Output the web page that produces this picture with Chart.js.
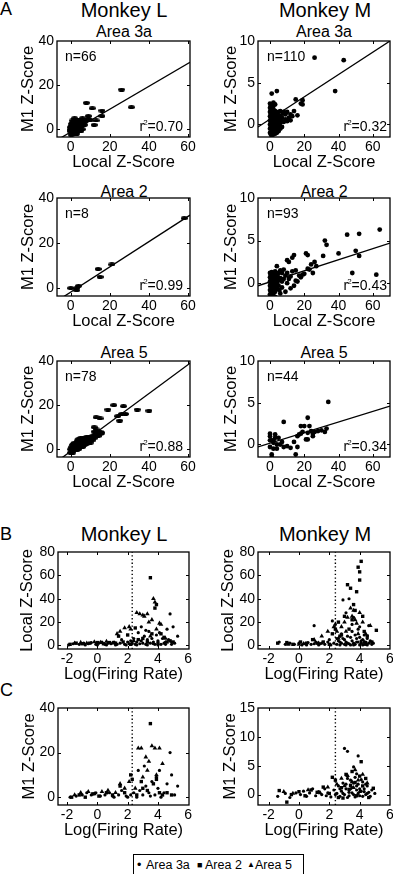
<!DOCTYPE html>
<html><head><meta charset="utf-8">
<script src="https://cdn.jsdelivr.net/npm/chart.js@4.4.1/dist/chart.umd.min.js"></script>
<style>
html,body{margin:0;padding:0;background:#fff;overflow:hidden;}
#page{position:relative;width:393px;height:874px;overflow:hidden;font-family:"Liberation Sans",Arial,sans-serif;color:#000;background:#fff;}
.t{position:absolute;white-space:nowrap;line-height:1;}
.c{transform:translateX(-50%);}
canvas{position:absolute;}
#leg{position:absolute;left:133px;top:854px;width:171px;height:22px;border:1px solid #000;box-sizing:border-box;font-size:12.5px;}
#leg span{position:absolute;top:4px;line-height:1;white-space:nowrap;}
</style></head><body><div id="page">
<div class="t" style="left:0;top:0;font-size:18px;">A</div>
<div class="t c" style="left:124px;top:0;font-size:20px;">Monkey L</div>
<div class="t c" style="left:325px;top:0;font-size:20px;">Monkey M</div>
<div class="t c" style="left:124px;top:24px;font-size:16px;">Area 3a</div>
<div class="t c" style="left:324px;top:24px;font-size:16px;">Area 3a</div>
<div class="t c" style="left:124px;top:183.5px;font-size:16px;">Area 2</div>
<div class="t c" style="left:324px;top:183.5px;font-size:16px;">Area 2</div>
<div class="t c" style="left:124px;top:345px;font-size:16px;">Area 5</div>
<div class="t c" style="left:324px;top:345px;font-size:16px;">Area 5</div>
<div class="t" style="left:0;top:525px;font-size:18px;">B</div>
<div class="t c" style="left:124px;top:524px;font-size:20px;">Monkey L</div>
<div class="t c" style="left:325px;top:524px;font-size:20px;">Monkey M</div>
<div class="t" style="left:0;top:681px;font-size:18px;">C</div>
<div id="leg">
<span style="left:3px;">•</span><span style="left:12px;">Area 3a</span>
<span style="left:63px;font-size:9px;top:6px;">■</span><span style="left:71px;">Area 2</span>
<span style="left:113px;font-size:8px;top:6px;">▲</span><span style="left:121px;">Area 5</span>
</div>
</div>
<script>
// ---------- DATA ----------
// Tick labels
const zTicks40 = [0, 20, 40];
const zTicks10 = [0, 5, 10];
const zTicks15 = [0, 5, 10, 15];
const zTicks80 = [0, 20, 40, 60, 80];
const localTicks = [0, 20, 40, 60];
const rateTicks = [-2, 0, 2, 4, 6];

// Panel A, Monkey L: [local z, M1 z]
const aL3a = [[0,0],[0.5,-1],[1,-2],[1,0.5],[1.5,1],[2,2],[2,-0.5],[2.5,3],[3,1],[3,-1],[0.5,1.5],[1,3],[2,4],[3,4],[4,3],[4,4],[5,4],[6,4],[4,2],[5,2],[3,2.5],[1.5,-1.5],[0,-1],[0.5,0.5],[1,1.5],[2,0],[3.5,0],[4,-1],[5,-1],[6,2],[7,3.5],[8,4],[9,6],[10,4],[8,12],[11,9.5],[16,8.5],[16,6],[12,2],[26,18],[31,10],[7,2],[5,3],[2.5,-2],[1,-1],[0,1],[0.5,2.5],[1.5,3.5],[3,3],[2,1],[6,0],[4,0.5],[1,4],[2,-1.5],[0,-0.5],[1,2],[3,0.5],[5,1],[4,1.5],[13,4],[6,5],[2,5],[3,-2],[1,0],[0.3,-2.5],[9,4.5]];
const aL2 = [[0,0],[3,-1],[3,0],[4,1],[14,8.5],[15,5],[21,10.5],[58,31]];
const aL5 = [[0,0],[0.5,-1],[1,0.5],[1,-1.5],[1.5,1],[2,1.5],[2,-0.5],[2.5,2],[3,1],[3,3],[3.5,2.5],[4,2],[4,3.5],[5,3],[5,5],[6,5],[7,5],[6,3],[7,3],[8,2.5],[8,5],[9,5.5],[10,5],[11,5],[12,6],[12,8],[12,10],[13,7],[13,14.5],[14,6],[14,8],[15,14],[15,7],[16,7.5],[19,18],[22,20],[24,15],[25,13],[26,16],[27,19.5],[28,16],[34,18],[40,17.5],[1,0],[2,0.5],[3,-0.5],[0.5,1],[1.5,-0.5],[4,1],[5,1.5],[6,1],[2,2.5],[3,1.8],[4,4.5],[0,-1.5],[1,2],[9,4],[10,3],[11,6],[12,5],[13,9],[0.5,0],[2.5,0],[3.5,4],[5,4],[7,4],[8,5.5],[10,5.5],[1,-0.5],[2,3],[6,4],[4,0],[1.5,2.5],[11,4],[9,3],[15,8],[14,7],[7,2]];

// Panel A, Monkey M
const aM3a = [[0,-1],[0,-0.5],[0,0],[0,0.5],[0,1],[0,1.5],[0,2],[0,2.5],[0.5,-1.2],[0.5,-0.3],[0.5,0.3],[0.5,0.8],[0.5,1.3],[0.5,1.8],[0.5,2.3],[1,-1.3],[1,-0.8],[1,-0.2],[1,0.2],[1,0.7],[1,1.2],[1,1.7],[1,3.7],[1.5,-1],[1.5,-0.5],[1.5,0],[1.5,0.5],[1.5,1],[1.5,1.5],[1.5,2],[2,-1.2],[2,-0.6],[2,-0.1],[2,0.4],[2,0.9],[2,1.4],[2,2.2],[2.5,-0.9],[2.5,-0.3],[2.5,0.2],[2.5,0.7],[2.5,1.2],[2.5,1.7],[3,-1.1],[3,-0.5],[3,0],[3,0.6],[3,1],[3,1.6],[3.5,-0.7],[3.5,-0.2],[3.5,0.4],[3.5,0.9],[3.5,1.4],[4,-1],[4,-0.4],[4,0.1],[4,0.6],[4,1.1],[4,4],[4.5,-0.6],[4.5,0.3],[4.5,0.8],[5,-0.8],[5,-0.2],[5,0.4],[5,1],[5,1.5],[5.5,0],[5.5,0.6],[6,-0.5],[6,0.2],[6,1],[6.5,0.4],[7,-0.3],[7,0.8],[7.5,1.3],[8,0.3],[8,1.5],[9,0.6],[9,1.2],[10,0.4],[10,1.5],[11,0.8],[12,1.2],[12,0.5],[13,1],[14,1.6],[15,3],[16,1.1],[18,2.5],[19,2.9],[19,2.4],[26,8],[38,4],[43,7.7],[3,2.4],[2,2.6],[1,2.4],[6,1.6]];
const aM2 = [[0,-1.3],[0,-0.8],[0,-0.3],[0,0.2],[0,0.7],[0,1.2],[0.5,-1],[0.5,-0.5],[0.5,0],[0.5,0.5],[0.5,1],[1,-1.5],[1,-0.7],[1,-0.2],[1,0.3],[1,0.8],[1,1.3],[1.5,-0.4],[1.5,0.4],[1.5,0.9],[2,-1.2],[2,-0.6],[2,0],[2,0.6],[2,1.1],[2.5,-0.2],[2.5,0.7],[3,-1],[3,-0.3],[3,0.3],[3,0.9],[3,1.4],[3.5,0.1],[3.5,1.2],[4,-0.7],[4,0],[4,0.5],[4,2],[4.5,0.8],[5,-0.3],[5,0.3],[5,1.2],[5.5,-0.8],[6,0.6],[6,1.5],[7,-0.5],[7,0.2],[7,1.2],[8,0.5],[8,1.6],[9,-1],[9,0.9],[10,2.7],[10,1.2],[10,0],[11,0.5],[11,2.5],[12,-0.6],[12,0.8],[13,1.4],[13,3],[14,3.3],[15,0.3],[15,1.5],[16,0.2],[17,0.9],[18,0.7],[20,1.1],[21,3.5],[22,3.3],[22,1.7],[23,1.6],[25,1.2],[26,2.5],[27,2],[31,3.2],[32,5],[33,4.5],[40,3.5],[45,5.7],[48,1.2],[50,3.8],[52,5.8],[52,3.2],[62,1],[64,6.3],[14,-0.3],[6,-1.2],[3,-1.6],[19,1],[24,2.2]];
const aM5 = [[0,1.3],[0,1],[0,0.5],[0,-0.3],[1,-1.2],[1,-1.5],[2,-0.5],[2,0.5],[2,0.2],[3,0.8],[3,1.2],[4,-0.5],[4,0],[5,0.8],[6,0],[8,2.7],[8,-0.3],[10,-0.2],[14,0.3],[15,-1.2],[16,1],[16,-0.3],[17,1.2],[18,1.3],[18,2.2],[19,1.5],[20,2.2],[21,0.6],[22,1.4],[22,3.2],[22,0.6],[23,2.2],[24,1.6],[25,1],[25,1.3],[26,1.5],[28,1.6],[30,1.7],[32,1.5],[33,1.9],[34,5.1],[12,-0.4],[7,0.3],[1,0.5]];

// Regression-line end points [x, y]
const fitL3a = [[-7,-4.9],[61,30.4]];
const fitL2 = [[-7,-5.7],[61,32.4]];
const fitL5 = [[-7,-5.5],[61,39]];
const fitM3a = [[-7,-0.3],[70,10]];
const fitM2 = [[-7,-0.3],[70,4.7]];
const fitM5 = [[-7,-0.3],[70,4.6]];

const nLabels = ['n=66','n=8','n=78','n=110','n=93','n=44'];
const r2Labels = ['0.70','0.99','0.88','0.32','0.43','0.34'];

// Panel B (local Z-score vs log firing rate), Monkey L
const bL3a = [[-1.9,0.5],[-1.6,1.5],[-1.2,1],[-0.9,2],[-0.6,1.5],[-0.4,2.5],[-0.1,1],[0.1,2],[0.3,3],[0.5,1],[0.7,2],[0.9,1.5],[1.1,3],[1.3,1],[1.5,2],[1.6,5],[1.8,1],[2,3],[2.1,1.5],[2.3,2],[2.4,6],[2.5,1],[2.6,3],[2.7,11],[2.8,1.5],[2.9,4],[3,2],[3.1,8],[3.2,1],[3.3,5],[3.4,12],[3.5,2],[3.6,6],[3.7,3],[3.8,1],[3.9,9],[4,4],[4.1,11],[4.2,1],[4.3,6],[4.4,2],[4.5,3],[4.7,5],[4.8,27],[4.9,1],[5,16],[5.1,2],[5.3,8],[4.6,14],[3.2,13],[2.9,16],[-0.8,0.5],[0,0.5],[0.6,0.5],[1.2,0.5],[1.9,0.5],[2.6,0.5],[3.3,0.5],[4,0.5],[4.5,1],[2.2,4],[3.7,1.5],[4.9,3]];
const bL2 = [[-1.8,1],[-1.4,2],[-1,1.5],[-0.5,2],[0,2.5],[0.4,1.5],[0.8,2.5],[1.2,2],[1.4,8],[1.7,3],[2,9],[2.2,1],[2.5,15],[2.7,5],[3,6],[3.3,3],[3.5,58],[3.6,10],[3.8,32],[3.9,35],[4,2],[4.2,10],[4.4,7],[4.6,3],[4.8,4],[5,3]];
const bL5 = [[-1.5,2],[-1.1,2.5],[-0.7,2],[-0.2,3],[0.2,2.5],[0.6,3.5],[1,2],[1.3,10],[1.5,12],[1.8,15],[2.1,16],[2.2,14],[2.6,28],[2.8,27],[3,26],[3.1,25],[3.3,27],[3.4,20],[3.6,22],[3.7,40],[3.8,37],[3.9,14],[4.1,19],[4.2,18],[4.5,6],[2.4,4],[3.5,8]];
// Panel B, Monkey M
const bM3a = [[-1.3,3],[-0.9,1],[-0.6,2],[-0.3,1],[0,2],[0.2,0.5],[0.4,1.5],[0.6,2.5],[0.8,1],[1,1.5],[1.1,3],[1.3,0.5],[1.5,2],[1.7,1],[1.9,3],[2.1,0.5],[2.3,2],[2.5,1],[2.6,4],[2.7,0.5],[2.8,2],[2.9,6],[3,1],[3.1,3],[3.2,8],[3.3,1.5],[3.4,0.5],[3.5,4],[3.6,2],[3.7,1],[3.8,6],[3.9,3],[4,0.5],[4.1,2],[4.2,5],[4.3,1],[4.4,3],[4.5,0.5],[4.6,2],[4.7,4],[4.8,1],[4.9,2],[2.9,39],[3.3,40],[3.1,28],[3.6,24],[2.2,21],[2.4,18],[1,17],[4.6,17],[2.7,3],[2.8,10],[3,5],[3.2,2],[3.4,7],[3.5,12],[3.6,0.5],[3.7,9],[3.8,3],[3.9,14],[4,7],[4.1,4],[4.2,0.5],[4.3,9],[4.4,1],[4.5,6],[3.1,0.5],[2.5,6],[2,5],[1.4,1.5],[0.5,0.5],[4,16],[3.5,18]];
const bM2 = [[-1.4,2],[-0.8,2.5],[-0.4,1],[0.1,3],[0.5,2],[0.9,5],[1.2,2],[1.6,3],[2,1],[2.2,10],[2.4,14],[2.6,20],[2.8,9],[3,25],[3.2,52],[3.4,49],[3.5,22],[3.7,30],[3.8,46],[3.9,67],[4,63],[4,56],[4.1,72],[4.2,25],[4.3,12],[4.5,8],[4.8,3],[5.1,13],[3.6,35],[3.3,14],[2.7,8],[4.4,2]];
const bM5 = [[-0.7,1],[0.3,1.5],[1,5],[1.5,8],[1.9,12],[2.3,16],[2.5,12],[2.8,16],[3,20],[3.2,24],[3.4,32],[3.5,25],[3.6,30],[3.7,22],[3.8,19],[4,28],[4.2,20],[4.4,10],[4.7,17],[3.1,12],[3.9,10],[2.6,6],[4.3,3],[1.3,2],[0,1]];

// Panel C (M1 Z-score vs log firing rate), Monkey L
const cL3a = [[-1.8,0],[-1.4,0.5],[-1,1],[-0.7,2],[-0.4,1],[-0.1,2],[0.2,0.5],[0.5,1],[0.8,2],[1.1,0],[1.4,1],[1.6,3],[1.9,0.5],[2.2,1],[2.4,2],[2.6,0],[2.8,3],[3,1],[3.2,5],[3.4,2],[3.6,7],[3.8,1],[4,4],[4.2,0],[4.4,2],[4.6,6],[4.8,20],[4.9,10],[5.1,1],[5.3,5],[3.9,9],[3.1,14],[2.7,12],[4.1,12],[3.5,0.5],[2,0],[1,0.5]];
const cL2 = [[-1.7,0],[-1.2,1],[-0.8,0],[-0.3,1.5],[0.1,0.5],[0.6,2],[1,1],[1.5,5],[1.8,2],[2.2,10],[2.3,8],[2.6,1],[3,4],[3.3,3],[3.5,33],[3.7,6],[3.9,8],[4.1,2],[4.3,1],[4.6,2],[4.9,1],[2.9,7]];
const cL5 = [[-1.5,1],[-1.1,2],[-0.6,2.5],[-0.2,1.5],[0.3,2.5],[0.7,3],[1.2,2],[1.5,6],[1.8,4],[2.1,7],[2.7,22],[2.9,22],[3.2,18],[3.4,16],[3.6,23],[3.8,22],[4.1,22],[3.3,12],[3.9,10],[4.3,15],[3,9],[2.5,4]];
// Panel C, Monkey M
const cM3a = [[-1.4,-0.3],[-0.9,0.2],[-0.6,-0.5],[-0.2,0.3],[0.1,0],[0.3,0.6],[0.5,-0.3],[0.7,0.3],[0.9,1],[1.1,-0.2],[1.3,0.5],[1.5,0],[1.7,1],[1.9,0.3],[2.1,-0.4],[2.3,0.8],[2.5,0.2],[2.6,1.5],[2.7,-0.3],[2.8,0.6],[2.9,2],[3,0],[3.1,1],[3.2,-0.5],[3.3,0.4],[3.4,2.5],[3.5,1.2],[3.6,0],[3.7,3],[3.8,0.8],[3.9,1.8],[4,-0.2],[4.1,0.6],[4.2,2.2],[4.3,1],[4.4,0],[4.5,1.5],[4.6,0.4],[4.7,-0.3],[4.8,0.8],[5,0.2],[3,8],[3.2,7.5],[3.9,6.7],[3.6,4.8],[2.7,1],[2.9,0.2],[3.1,1.8],[3.3,-0.2],[3.4,1],[3.5,0.3],[3.6,2],[3.7,-0.4],[3.8,1.5],[3.9,0.2],[4,1],[4.1,2.6],[4.2,-0.3],[4.3,0.5],[4.4,1.8],[4.5,0.2],[3.2,2.8],[3.8,3.6],[2.4,0],[1.8,-0.2]];
const cM2 = [[-1.3,0.7],[-0.8,-1.3],[-0.5,0],[0,0.5],[0.4,-0.2],[0.8,0.8],[1.2,0.4],[1.6,1.3],[2,0.2],[2.2,3],[2.4,2.5],[2.6,-0.5],[2.8,1.2],[3.1,3.5],[3.3,0.9],[3.5,4],[3.7,2.1],[3.8,-0.2],[4,3.2],[4.1,5.7],[4.2,1.5],[4.4,2.8],[4.6,-0.5],[4.9,1.1],[3.4,1.6],[2.9,-0.6]];
const cM5 = [[-1,0.5],[-0.4,0.2],[0.6,0.8],[1.4,0.3],[1.9,1.3],[2.5,1.8],[2.8,2.8],[3.2,3.3],[3.5,2.2],[3.7,4.3],[3.9,2.5],[4.2,3.5],[4.5,2],[3,1.5],[4,0.5],[3.6,1.2]];

// Firing-rate threshold (dotted line)
const thresholdL = 2.3;
const thresholdM = 2.4;

// ---------- DRAWING ----------
const FONT = '"Liberation Sans", Arial, sans-serif';
const page = document.getElementById('page');

function ellipseImg(w, h) {
  const c = document.createElement('canvas');
  c.width = w; c.height = h;
  const g = c.getContext('2d');
  g.fillStyle = '#000';
  g.beginPath(); g.ellipse(w / 2, h / 2, w / 2, h / 2, 0, 0, Math.PI * 2); g.fill();
  return c;
}
const ellipseMark = ellipseImg(7, 4);

const boxPlugin = {
  id: 'mbox',
  afterDatasetsDraw(chart, args, opts) {
    const {ctx, chartArea: a, scales: {x, y}} = chart;
    ctx.save();
    ctx.strokeStyle = '#000';
    ctx.lineWidth = 1.3;
    ctx.strokeRect(a.left, a.top, a.right - a.left, a.bottom - a.top);
    const tl = 3;
    ctx.lineWidth = 1;
    ctx.beginPath();
    x.ticks.forEach(t => {
      const px = Math.round(x.getPixelForValue(t.value)) + 0.5;
      if (px < a.left + 1 || px > a.right - 1) return;
      ctx.moveTo(px, a.bottom); ctx.lineTo(px, a.bottom - tl);
      ctx.moveTo(px, a.top); ctx.lineTo(px, a.top + tl);
    });
    y.ticks.forEach(t => {
      const py = Math.round(y.getPixelForValue(t.value)) + 0.5;
      if (py < a.top + 1 || py > a.bottom - 1) return;
      ctx.moveTo(a.left, py); ctx.lineTo(a.left + tl, py);
      ctx.moveTo(a.right, py); ctx.lineTo(a.right - tl, py);
    });
    ctx.stroke();
    ctx.fillStyle = '#000';
    if (opts.n) {
      ctx.font = '14px ' + FONT;
      ctx.textAlign = 'left'; ctx.textBaseline = 'alphabetic';
      ctx.fillText(opts.n, a.left + opts.nDx, a.top + 20);
    }
    if (opts.r) {
      ctx.textBaseline = 'alphabetic';
      ctx.textAlign = 'left';
      ctx.font = '14px ' + FONT;
      const tail = '=' + opts.r;
      const wTail = ctx.measureText(tail).width;
      const wR = ctx.measureText('r').width;
      ctx.font = '8px ' + FONT;
      const wSup = ctx.measureText('2').width;
      const base = a.bottom - 6;
      const xr = a.right - opts.rDx - wTail;
      ctx.font = '14px ' + FONT;
      ctx.fillText(tail, xr, base);
      ctx.font = '8px ' + FONT;
      ctx.fillText('2', xr - wSup, base - 6);
      ctx.font = '14px ' + FONT;
      ctx.fillText('r', xr - wSup - wR + 1, base);
    }
    ctx.restore();
  }
};

function pts(arr) { return arr.map(([x, y]) => ({x, y})); }

function scatterSet(arr, style, radius) {
  return {data: pts(arr), pointStyle: style, pointRadius: radius, pointHoverRadius: radius,
    backgroundColor: '#000', borderColor: '#000', borderWidth: 0, showLine: false};
}
function lineSet(arr, dash) {
  return {data: pts(arr), showLine: true, borderColor: '#000', borderWidth: dash ? 1.4 : 1.3,
    borderDash: dash || [], pointRadius: 0, fill: false, tension: 0};
}

function addChart(s) {
  const PT = 10, PR = 12, XH = 40;
  const YW = s.pl - s.canvasLeft;
  const W = YW + (s.pr - s.pl) + PR;
  const H = PT + (s.pb - s.pt) + XH;
  const cv = document.createElement('canvas');
  cv.width = W; cv.height = H;
  cv.style.left = s.canvasLeft + 'px';
  cv.style.top = (s.pt - PT) + 'px';
  cv.style.width = W + 'px'; cv.style.height = H + 'px';
  page.appendChild(cv);
  const ts = 16.5, lh = ts * 1.2;
  const tickFont = {family: FONT, size: 14};
  new Chart(cv, {
    type: 'scatter',
    data: {datasets: s.datasets},
    options: {
      responsive: false, animation: false, devicePixelRatio: 1,
      events: [],
      layout: {padding: {left: 0, top: PT, right: PR, bottom: 0}},
      plugins: {legend: {display: false}, tooltip: {enabled: false}, mbox: s.annot || {}},
      scales: {
        x: {
          type: 'linear', min: s.xMin, max: s.xMax,
          grid: {display: false, drawTicks: false, tickLength: 0}, border: {display: false},
          afterBuildTicks: sc => { sc.ticks = s.xTicks.map(v => ({value: v})); },
          afterFit: sc => { sc.height = XH; sc.paddingLeft = 0; sc.paddingRight = 0; },
          ticks: {padding: 2, color: '#000', font: tickFont, maxRotation: 0, autoSkip: false},
          title: {display: true, text: s.xTitle, color: '#000', font: {family: FONT, size: ts},
            padding: {top: 0, bottom: XH - 25.5 - lh / 2}}
        },
        y: {
          type: 'linear', min: s.yMin, max: s.yMax,
          grid: {display: false, drawTicks: false, tickLength: 0}, border: {display: false},
          afterBuildTicks: sc => { sc.ticks = s.yTicks.map(v => ({value: v})); },
          afterFit: sc => { sc.width = YW; sc.paddingTop = 0; sc.paddingBottom = 0; },
          ticks: {padding: 3, color: '#000', font: tickFont, autoSkip: false},
          title: {display: true, text: s.yTitle, color: '#000', font: {family: FONT, size: ts},
            padding: {top: (s.pl - s.yTitleGap) - s.canvasLeft - lh / 2, bottom: 0}}
        }
      }
    },
    plugins: [boxPlugin]
  });
}

const colL = {canvasLeft: 0, pl: 57, pr: 190};
const colM = {canvasLeft: 198, pl: 258, pr: 390};
const rowsA = [{pt: 41, pb: 137}, {pt: 198, pb: 296}, {pt: 361, pb: 457}];

const aLsets = [aL3a, aL2, aL5];
const aLfits = [fitL3a, fitL2, fitL5];
const aMsets = [aM3a, aM2, aM5];
const aMfits = [fitM3a, fitM2, fitM5];

rowsA.forEach((r, i) => {
  addChart(Object.assign({}, colL, r, {
    xMin: -7, xMax: 61, yMin: -3.5, yMax: 40, xTicks: localTicks, yTicks: zTicks40,
    xTitle: 'Local Z-Score', yTitle: 'M1 Z-Score', yTitleGap: 29,
    datasets: [lineSet(aLfits[i]), scatterSet(aLsets[i], ellipseMark, 3)],
    annot: {n: nLabels[i], nDx: 8, r: r2Labels[i], rDx: 7}
  }));
  addChart(Object.assign({}, colM, r, {
    xMin: -7, xMax: 70, yMin: -1.5, yMax: 10, xTicks: localTicks, yTicks: zTicks10,
    xTitle: 'Local Z-Score', yTitle: 'M1 Z-Score', yTitleGap: 27,
    datasets: [lineSet(aMfits[i]), scatterSet(aMsets[i], 'circle', 2.4)],
    annot: {n: nLabels[i + 3], nDx: 9, r: r2Labels[i + 3], rDx: 3}
  }));
});

function rateSets(a3, a2, a5) {
  return [scatterSet(a3, 'circle', 1.6), scatterSet(a2, 'rect', 2.4), scatterSet(a5, 'triangle', 2.7)];
}

// Panel B
addChart({canvasLeft: 0, pl: 58, pr: 189, pt: 552, pb: 649,
  xMin: -2.6, xMax: 6.05, yMin: -3, yMax: 80, xTicks: rateTicks, yTicks: zTicks80,
  xTitle: 'Log(Firing Rate)', yTitle: 'Local Z-Score', yTitleGap: 31,
  datasets: [lineSet([[thresholdL, -3], [thresholdL, 80]], [1.3, 2.4])].concat(rateSets(bL3a, bL2, bL5))});
addChart({canvasLeft: 198, pl: 258, pr: 390, pt: 552, pb: 649,
  xMin: -2.7, xMax: 6, yMin: -3, yMax: 80, xTicks: rateTicks, yTicks: zTicks80,
  xTitle: 'Log(Firing Rate)', yTitle: 'Local Z-Score', yTitleGap: 30,
  datasets: [lineSet([[thresholdM, -3], [thresholdM, 80]], [1.3, 2.4])].concat(rateSets(bM3a, bM2, bM5))});

// Panel C
addChart({canvasLeft: 0, pl: 58, pr: 189, pt: 708, pb: 805,
  xMin: -2.6, xMax: 6.05, yMin: -3.5, yMax: 40, xTicks: rateTicks, yTicks: zTicks40,
  xTitle: 'Log(Firing Rate)', yTitle: 'M1 Z-Score', yTitleGap: 29,
  datasets: [lineSet([[thresholdL, -3.5], [thresholdL, 40]], [1.3, 2.4])].concat(rateSets(cL3a, cL2, cL5))});
addChart({canvasLeft: 198, pl: 258, pr: 390, pt: 708, pb: 805,
  xMin: -2.7, xMax: 6, yMin: -1.8, yMax: 15, xTicks: rateTicks, yTicks: zTicks15,
  xTitle: 'Log(Firing Rate)', yTitle: 'M1 Z-Score', yTitleGap: 28,
  datasets: [lineSet([[thresholdM, -1.8], [thresholdM, 15]], [1.3, 2.4])].concat(rateSets(cM3a, cM2, cM5))});
</script>
</body></html>
